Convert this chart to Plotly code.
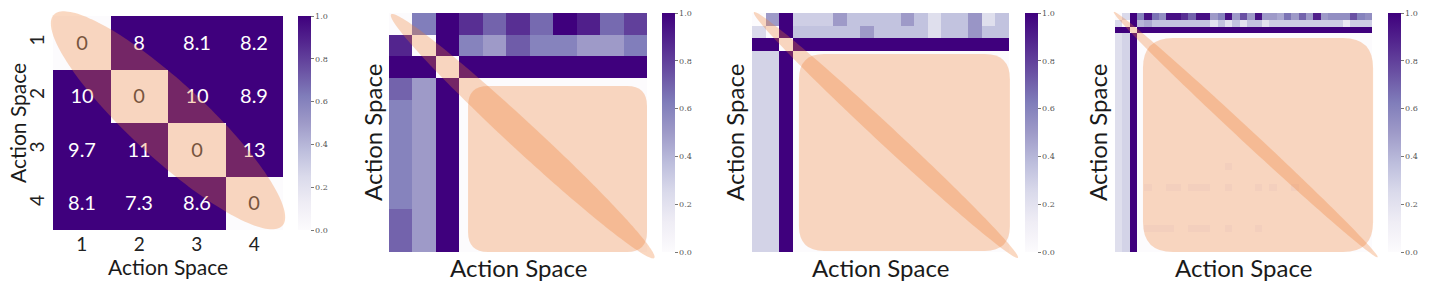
import numpy as np
import plotly.graph_objects as go

W, H = 1429, 290

# ---------------- data ----------------
# Panel 1 (4 actions), values shown in cells
p1_ticks = ["1", "2", "3", "4"]
p1_z = [[0, 8, 8.1, 8.2],
        [10, 0, 10, 8.9],
        [9.7, 11, 0, 13],
        [8.1, 7.3, 8.6, 0]]

# Panel 2 (11 actions)
p2_row0 = [0, 0.62, 1, 0.85, 0.7, 0.85, 0.68, 1, 0.9, 0.68, 0.8]
p2_row1 = [0.88, 0, 1, 0.6, 0.5, 0.72, 0.6, 0.6, 0.5, 0.5, 0.62]
p2_row2 = [1, 1, 0, 1, 1, 1, 1, 1, 1, 1, 1]
p2_col0 = [0.7, 0.6, 0.6, 0.6, 0.6, 0.6, 0.7, 0.7]      # rows 3..10
p2_col1 = [0.5, 0.5, 0.5, 0.5, 0.5, 0.5, 0.5, 0.5]
p2_col2 = [1, 1, 1, 1, 1, 1, 1, 1]

# Panel 3 (19 actions)
p3_row0 = [0, 0.5, 1, 0.3, 0.3, 0.3, 0.5, 0.35, 0.35, 0.35, 0.35, 0.5, 0.35, 0.22, 0.35, 0.35, 0.52, 0.22, 0.35]
p3_row1 = [0.25, 0, 1, 0.35, 0.35, 0.35, 0.35, 0.35, 0.5, 0.35, 0.35, 0.35, 0.35, 0.22, 0.35, 0.35, 0.52, 0.35, 0.35]
p3_row2 = [1, 1, 0] + [1] * 16
p3_col0 = [0.28] * 16                                        # rows 3..18
p3_col1 = [0.28] * 16
p3_col2 = [1] * 16

# Panel 4 (35 actions)
p4_row0 = [0, 0.25, 1, 0.6, 0.95, 0.65, 0.55, 0.95, 0.95, 0.85, 0.7, 0.95, 0.95, 0.5, 0.6,
           0.95, 0.5, 0.75, 0.5, 0.95, 0.5, 0.5, 0.45, 0.65, 0.5, 0.7, 0.5, 0.9, 0.5, 0.55,
           0.55, 0.55, 0.75, 0.6, 0.55]
p4_row1 = [0.25, 0, 1, 0.4, 0.45, 0.35, 0.35, 0.35, 0.35, 0.35, 0.35, 0.35, 0.35, 0.2, 0.35,
           0.2, 0.35, 0.2, 0.35, 0.35, 0.2, 0.3, 0.3, 0.3, 0.3, 0.3, 0.3, 0.3, 0.3, 0.3,
           0.3, 0.15, 0.3, 0.3, 0.3]
p4_row2 = [1, 1, 0] + [1] * 32
p4_col0 = [0.22] * 32                                        # rows 3..34
p4_col1 = [0.28] * 32
p4_col2 = [1] * 32
p4_faint_rows = [22, 25, 25, 25, 25, 25, 25, 25, 25, 25, 25, 31, 31, 31, 31, 31, 31, 31, 31, 31]
p4_faint_cols = [15, 4, 7, 8, 10, 11, 12, 15, 19, 21, 24, 4, 5, 6, 7, 10, 11, 12, 15, 19]
p4_faint_val = 0.07


def build(n, r0, r1, r2, c0, c1, c2):
    z = np.zeros((n, n))
    z[0, :] = r0
    z[1, :] = r1
    z[2, :] = r2
    z[3:, 0] = c0
    z[3:, 1] = c1
    z[3:, 2] = c2
    return z


z1 = np.array(p1_z, dtype=float)
z2 = build(11, p2_row0, p2_row1, p2_row2, p2_col0, p2_col1, p2_col2)
z3 = build(19, p3_row0, p3_row1, p3_row2, p3_col0, p3_col1, p3_col2)
z4 = build(35, p4_row0, p4_row1, p4_row2, p4_col0, p4_col1, p4_col2)
for r, c in zip(p4_faint_rows, p4_faint_cols):
    z4[r, c] = p4_faint_val

# ---------------- layout geometry (pixels) ----------------
panels = [
    dict(z=z1, box=(53, 16, 283, 230), cb=298, text=True, tfs=20,
         ell=(2.5, 2.45, 2.8, 0.68), rect=None,
         xl=(168, 266, 21), yl=(17, 123, 21)),
    dict(z=z2, box=(389, 13, 647, 252), cb=662, text=False, tfs=0,
         ell=(6.2, 6.17, 7.93, 0.62), rect=(3.87, 3.86, 11.5, 11.5, 0.85, 0.92),
         xl=(518, 267, 24), yl=(373, 133, 24)),
    dict(z=z3, box=(752, 13, 1009, 252), cb=1025, text=False, tfs=0,
         ell=(10.4, 10.2, 13.8, 0.72), rect=(3.97, 3.76, 19.57, 19.42, 1.85, 2.0),
         xl=(881, 267, 24), yl=(735, 133, 24)),
    dict(z=z4, box=(1115, 13, 1372, 252), cb=1388, text=False, tfs=0,
         ell=(18.3, 18.3, 25.4, 0.95), rect=(4.31, 4.16, 35.65, 35.5, 4.1, 4.4),
         xl=(1243, 267, 24), yl=(1098, 133, 24)),
]

ORANGE = "#ED7D31"
SANS = "Lato"

fig = go.Figure()
shapes = []
annotations = []
layout_axes = {}

for i, p in enumerate(panels):
    k = "" if i == 0 else str(i + 1)
    z = p["z"]
    n = z.shape[0]
    x0, y0, x1, y1 = p["box"]
    dom_x = [x0 / W, x1 / W]
    dom_y = [1 - y1 / H, 1 - y0 / H]

    idx = list(range(1, n + 1))
    tr = dict(
        z=z, x=idx, y=idx, colorscale="Purples", zmin=0, zmax=1,
        xaxis="x" + k, yaxis="y" + k, hoverinfo="skip",
        colorbar=dict(
            x=p["cb"] / W, xanchor="left", xpad=0, ypad=0,
            y=1 - (y0 + y1) / 2 / H, yanchor="middle",
            len=(y1 - y0) / H, lenmode="fraction",
            thickness=13, thicknessmode="pixels", outlinewidth=0,
            tickvals=[0, 0.2, 0.4, 0.6, 0.8, 1.0],
            ticktext=["0.0", "0.2", "0.4", "0.6", "0.8", "1.0"],
            ticks="outside", ticklen=3, tickwidth=1, tickcolor="#777",
            tickfont=dict(family="DejaVu Serif", size=8, color="#555"),
        ),
    )
    if p["text"]:
        tr["texttemplate"] = "%{z}"
        tr["textfont"] = dict(family=SANS, size=p["tfs"])
    fig.add_trace(go.Heatmap(**tr))

    ax_common = dict(showgrid=False, zeroline=False, showline=False, ticks="", automargin=False,
                     fixedrange=True)
    xa = dict(domain=dom_x, range=[0.5, n + 0.5], anchor="y" + k, **ax_common)
    ya = dict(domain=dom_y, range=[n + 0.5, 0.5], anchor="x" + k, **ax_common)
    if i == 0:
        xa.update(tickvals=idx, ticktext=p1_ticks, ticklabelstandoff=1,
                  tickfont=dict(family=SANS, size=19, color="#222"))
        ya.update(tickvals=idx, ticktext=p1_ticks, tickangle=-90, ticklabelstandoff=4,
                  tickfont=dict(family=SANS, size=19, color="#222"))
    else:
        xa.update(showticklabels=False)
        ya.update(showticklabels=False)
    layout_axes["xaxis" + k] = xa
    layout_axes["yaxis" + k] = ya

    def to_paper(xd, yd, n=n, x0=x0, x1=x1, y0=y0, y1=y1):
        px = x0 + (xd - 0.5) / n * (x1 - x0)
        py = y0 + (yd - 0.5) / n * (y1 - y0)
        return px / W, 1 - py / H

    # rounded rectangle overlay
    if p["rect"] is not None:
        a0, b0, a1, b1, rx, ry = p["rect"]
        pts = [("M", [(a0 + rx, b0)]), ("L", [(a1 - rx, b0)]), ("Q", [(a1, b0), (a1, b0 + ry)]),
               ("L", [(a1, b1 - ry)]), ("Q", [(a1, b1), (a1 - rx, b1)]),
               ("L", [(a0 + rx, b1)]), ("Q", [(a0, b1), (a0, b1 - ry)]),
               ("L", [(a0, b0 + ry)]), ("Q", [(a0, b0), (a0 + rx, b0)])]
        path = ""
        for cmd, cps in pts:
            path += cmd + " " + " ".join("%.5f,%.5f" % to_paper(cx, cy) for cx, cy in cps) + " "
        path += "Z"
        shapes.append(dict(type="path", path=path, xref="paper", yref="paper",
                           fillcolor=ORANGE, opacity=0.3, line=dict(width=0), layer="above"))

    # diagonal ellipse overlay
    cx, cy, a, b = p["ell"]
    t = np.linspace(0, 2 * np.pi, 181)
    s = 1 / np.sqrt(2)
    ex = cx + a * np.cos(t) * s + b * np.sin(t) * s
    ey = cy + a * np.cos(t) * s - b * np.sin(t) * s
    path = "M " + " L ".join("%.5f,%.5f" % to_paper(u, v) for u, v in zip(ex, ey)) + " Z"
    shapes.append(dict(type="path", path=path, xref="paper", yref="paper",
                       fillcolor=ORANGE, opacity=0.3, line=dict(width=0), layer="above"))

    # axis labels
    lx, ly, fs = p["xl"]
    annotations.append(dict(text="Action Space", x=lx / W, y=1 - ly / H, xref="paper", yref="paper",
                            showarrow=False, xanchor="center", yanchor="middle",
                            font=dict(family=SANS, size=fs, color="#1a1a1a")))
    lx, ly, fs = p["yl"]
    annotations.append(dict(text="Action Space", x=lx / W, y=1 - ly / H, xref="paper", yref="paper",
                            showarrow=False, xanchor="center", yanchor="middle", textangle=-90,
                            font=dict(family=SANS, size=fs, color="#1a1a1a")))

fig.update_layout(
    width=W, height=H, margin=dict(l=0, r=0, t=0, b=0, autoexpand=False),
    paper_bgcolor="white", plot_bgcolor="white",
    shapes=shapes, annotations=annotations, showlegend=False,
    **layout_axes,
)

fig.write_html("out.html", config={"displayModeBar": False},
               post_script="document.body.style.margin='0px';")
